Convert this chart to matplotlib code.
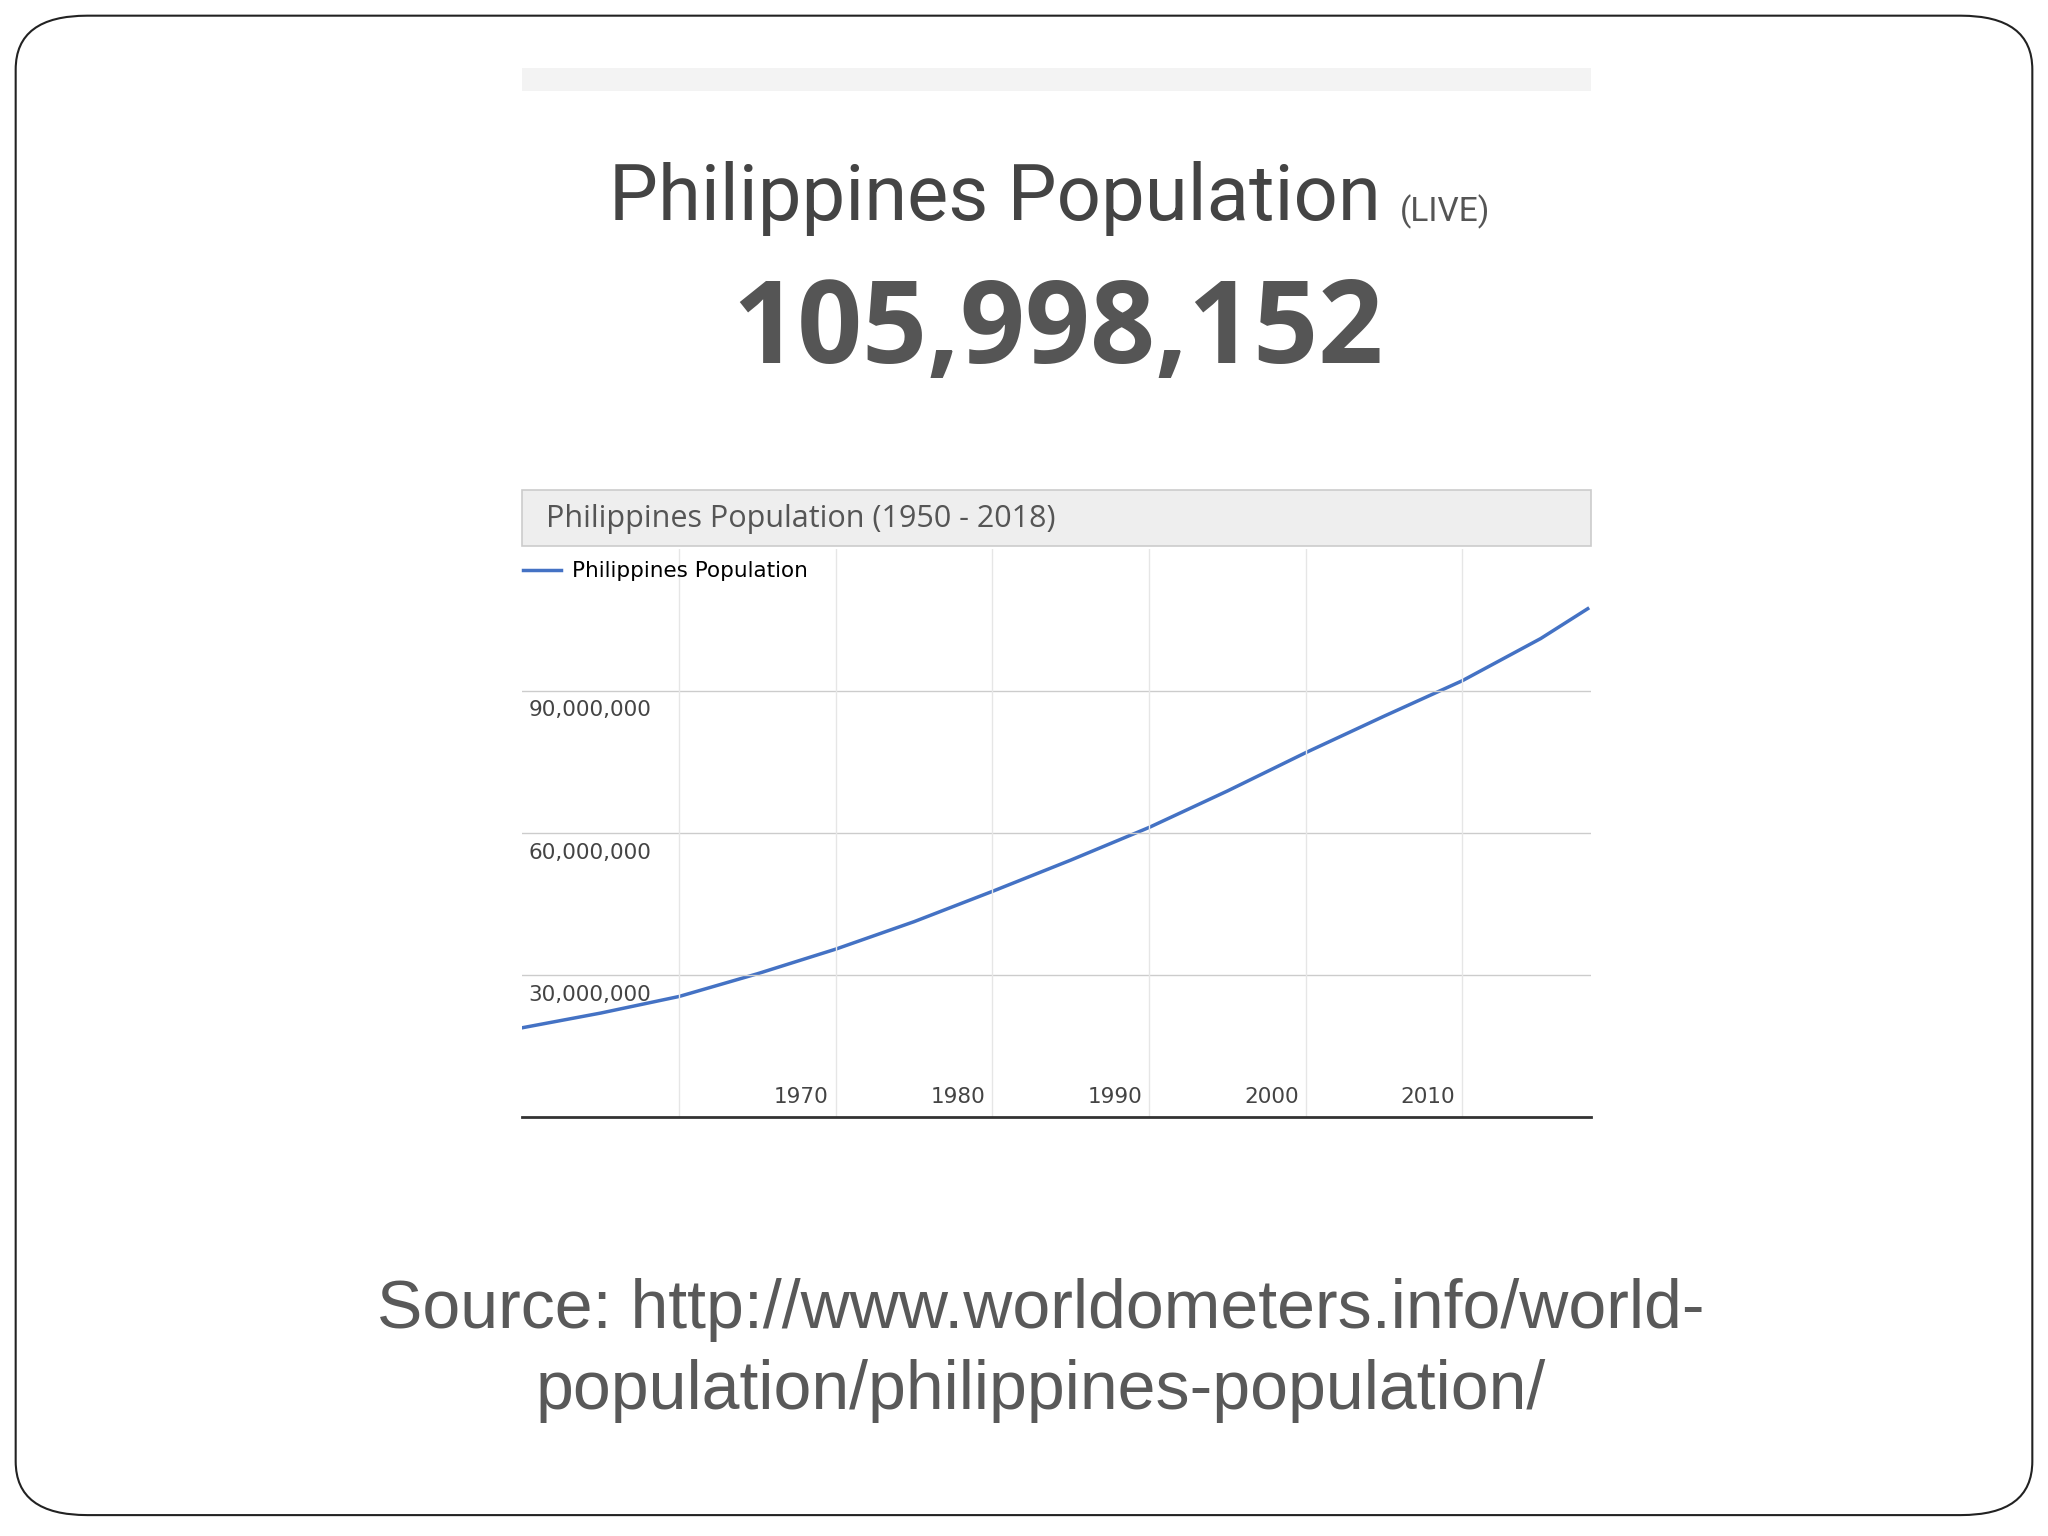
import matplotlib.pyplot as plt
from matplotlib.patches import FancyBboxPatch, Rectangle

years = [1950, 1955, 1960, 1965, 1970, 1975, 1980, 1985, 1990, 1995, 2000, 2005, 2010, 2015, 2018]
population = [18.8, 21.9, 25.4, 30.2, 35.4, 41.2, 47.6, 54.2, 61.1, 68.8, 76.9, 84.6, 92.1, 101.0, 107.3]  # millions
ytick_vals = [30, 60, 90]
ytick_labels = ['30,000,000', '60,000,000', '90,000,000']
xtick_vals = [1960, 1970, 1980, 1990, 2000, 2010]
xtick_labels = ['1970', '1980', '1990', '2000', '2010']

W, H = 1568, 1176
fig = plt.figure(figsize=(20.48, 15.36), dpi=100)
fig.patch.set_facecolor('white')

def fx(x): return x / W
def fy(y): return 1 - y / H

# slide border
fig.patches.append(FancyBboxPatch((fx(12), fy(1160)), fx(1544), (1148) / H,
                                  boxstyle='round,pad=0,rounding_size=0.035',
                                  transform=fig.transFigure, fill=False,
                                  edgecolor='#222222', linewidth=1.5))
# faint strip at top
fig.patches.append(Rectangle((fx(400), fy(70)), fx(818), 18 / H, transform=fig.transFigure,
                             facecolor='#f3f3f3', edgecolor='none'))

fig.text(fx(762), fy(152), 'Philippines Population', fontsize=56, color='#444444',
         family='Roboto', ha='center', va='center')
fig.text(fx(1106), fy(162), '(LIVE)', fontsize=24, color='#555555', family='Roboto',
         ha='center', va='center')
fig.text(fx(810), fy(255), '105,998,152', fontsize=82, color='#555555', family='Open Sans',
         fontweight='bold', ha='center', va='center')

# chart header
fig.patches.append(Rectangle((fx(400), fy(418)), fx(818), 43 / H, transform=fig.transFigure,
                             facecolor='#eeeeee', edgecolor='#cccccc', linewidth=1.2))
fig.text(fx(418), fy(397), 'Philippines Population (1950 - 2018)', fontsize=22,
         color='#555555', family='Open Sans', ha='left', va='center')

ax = fig.add_axes([fx(400), fy(855), fx(818), (855 - 420) / H])
ax.plot(years, population, color='#4472c4', linewidth=2.5, label='Philippines Population')
ax.set_xlim(1950, 2018.2)
ax.set_ylim(0, 120)
for v in ytick_vals:
    ax.axhline(v, color='#cccccc', linewidth=1)
for v in xtick_vals:
    ax.axvline(v, color='#e6e6e6', linewidth=1)
for v, lab in zip(ytick_vals, ytick_labels):
    ax.text(1950.4, v - 4.2, lab, fontsize=15.5, color='#444444', ha='left', va='center')
for v, lab in zip(xtick_vals[1:], xtick_labels):
    ax.text(v - 2.2, 4.1, lab, fontsize=15.5, color='#444444', ha='center', va='center')
ax.set_xticks([])
ax.set_yticks([])
for s in ['top', 'left', 'right']:
    ax.spines[s].set_visible(False)
ax.spines['bottom'].set_color('#333333')
ax.spines['bottom'].set_linewidth(2)
ax.legend(loc='upper left', bbox_to_anchor=(-0.012, 1.0), frameon=False, fontsize=15.5,
          handlelength=1.8, handletextpad=0.5, borderaxespad=0.2)

fig.text(fx(797), fy(1003), 'Source: http://www.worldometers.info/world-', fontsize=49,
         color='#595959', family='Liberation Sans', ha='center', va='center')
fig.text(fx(797), fy(1065), 'population/philippines-population/', fontsize=49,
         color='#595959', family='Liberation Sans', ha='center', va='center')

fig.savefig('out.png', dpi=100)
